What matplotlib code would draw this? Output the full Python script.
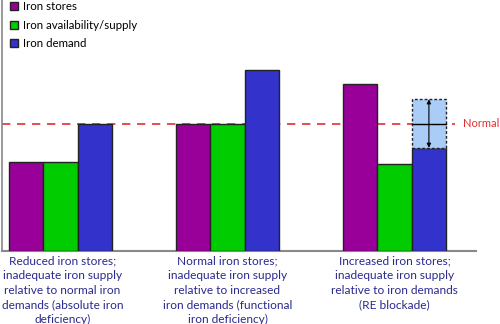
import matplotlib.pyplot as plt
import numpy as np

plt.rcParams['font.family'] = ['Lato', 'DejaVu Sans']

# values relative to normal (= 100)
series = ['Iron stores', 'Iron availability/supply', 'Iron demand']
stores = [70, 100, 131]
supply = [70, 100, 68]
demand = [100, 142, 81]
demand_required = 119   # dashed light box top in third group
normal = 100

categories = ['Reduced iron stores;\ninadequate iron supply\nrelative to normal iron\ndemands (absolute iron\ndeficiency)',
              'Normal iron stores;\ninadequate iron supply\nrelative to increased\niron demands (functional\niron deficiency)',
              'Increased iron stores;\ninadequate iron supply\nrelative to iron demands\n(RE blockade)']

colors = ['#990099', '#00cc00', '#3333cc']
light = '#a9cdf7'
text_blue = '#2a2a8f'

fig = plt.figure(figsize=(5, 3.24), dpi=100)
ax = fig.add_axes([2 / 500, 73 / 324, 474 / 500, 251 / 324])

x = np.arange(len(categories))
w = 0.206
for k, vals in enumerate([stores, supply, demand]):
    ax.bar(x + (k - 1) * w, vals, width=w, color=colors[k],
           edgecolor='#222222', linewidth=1, zorder=3, label=series[k])

# required demand box for third group
bx = x[2] + w
ax.bar(bx, demand_required - demand[2], bottom=demand[2], width=w,
       color=light, edgecolor='#222222', linewidth=1, linestyle=(0, (2, 1.5)), zorder=3)
ax.plot([bx - w / 2, bx + w / 2], [normal, normal], color='black', lw=1, zorder=4)
ax.annotate('', xy=(bx, demand[2]), xytext=(bx, demand_required),
            arrowprops=dict(arrowstyle='<|-|>', color='black', lw=0.8,
                            mutation_scale=6, shrinkA=0, shrinkB=0), zorder=5)

# normal line
ax.axhline(normal, xmin=0, xmax=0.956, color='#e03030', lw=1.2,
           linestyle=(0, (5, 4)), zorder=2)
ax.text(2.41, normal, 'Normal', color='#e03030', fontsize=8,
        va='center', ha='left', clip_on=False)

ax.set_xlim(-0.35, 2.488)
ax.set_ylim(0, 196.9)
ax.set_xticks([])
ax.set_yticks([])
for s in ['top', 'right']:
    ax.spines[s].set_visible(False)
ax.spines['left'].set_color('#888888')
ax.spines['bottom'].set_color('#888888')
ax.spines['left'].set_linewidth(1.2)
ax.spines['bottom'].set_linewidth(1.5)

for i, c in enumerate(categories):
    ax.text(x[i] + (0.012 if i == 0 else 0), -3.5, c, ha='center', va='top',
            color=text_blue, fontsize=8.6, linespacing=1.4, clip_on=False)

ax.legend(loc='upper left', bbox_to_anchor=(0.0, 1.027), frameon=False,
          fontsize=8.3, handlelength=0.65, handleheight=0.65,
          handletextpad=0.45, labelspacing=0.65, borderaxespad=0.3)

fig.savefig('out.png', dpi=100)
